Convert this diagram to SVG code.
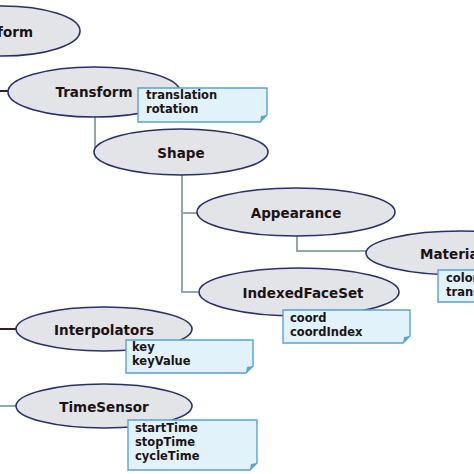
<svg xmlns="http://www.w3.org/2000/svg" width="474" height="474" viewBox="0 0 474 474">
<style>
.node{fill:#e3e4e8;stroke:#27306a;stroke-width:1.6}
.lbl{font-family:"DejaVu Sans",Verdana,sans-serif;font-weight:bold;font-size:13.5px;fill:#1c1214;text-anchor:middle}
.box{fill:#e1f2fb;stroke:#5aa2cf;stroke-width:1.4}
.fold{fill:#5aa2cf}
.ftxt{font-family:"DejaVu Sans",Verdana,sans-serif;font-weight:bold;font-size:11.5px;fill:#1c1214}
.conn{fill:none;stroke:#8fa9a7;stroke-width:2}
.dark{fill:none;stroke:#3a1e1e;stroke-width:2}
</style>
<rect width="474" height="474" fill="#ffffff"/>
<g id="connectors">
<path class="dark" d="M0 91 H9"/>
<path class="conn" d="M95 117 V152"/>
<path class="conn" d="M182 175 V292 H198 M182 213 H198"/>
<path class="conn" d="M297 236 V251 H366"/>
<path class="dark" d="M0 329 H17"/>
<path class="conn" d="M0 406 H16"/>
</g>
<g id="node-transform-top">
<ellipse class="node" cx="2" cy="31" rx="78" ry="25"/>
<text class="lbl" x="33" y="37" style="text-anchor:end">Transform</text>
</g>
<g id="node-transform">
<ellipse class="node" cx="94" cy="92" rx="86" ry="25"/>
<text class="lbl" x="94" y="97">Transform</text>
</g>
<g id="node-shape">
<ellipse class="node" cx="181" cy="152" rx="87" ry="23"/>
<text class="lbl" x="181" y="158">Shape</text>
</g>
<g id="node-appearance">
<ellipse class="node" cx="296" cy="212" rx="99" ry="24"/>
<text class="lbl" x="296" y="218">Appearance</text>
</g>
<g id="node-material">
<ellipse class="node" cx="461" cy="253" rx="95" ry="22"/>
<text class="lbl" x="420" y="259" style="text-anchor:start">Material</text>
</g>
<g id="node-indexedfaceset">
<ellipse class="node" cx="299" cy="292" rx="100" ry="24"/>
<text class="lbl" x="303" y="298">IndexedFaceSet</text>
</g>
<g id="node-interpolators">
<ellipse class="node" cx="104" cy="329" rx="88" ry="22"/>
<text class="lbl" x="104" y="335">Interpolators</text>
</g>
<g id="node-timesensor">
<ellipse class="node" cx="104" cy="406" rx="88" ry="22"/>
<text class="lbl" x="104" y="412">TimeSensor</text>
</g>
<g id="fields-transform">
<path class="box" d="M138 88 H267 V115 L260 122 H138 Z"/>
<path class="fold" d="M267 115 L260 122 L261 116 Z"/>
<text class="ftxt" x="146" y="99">translation</text>
<text class="ftxt" x="146" y="113">rotation</text>
</g>
<g id="fields-material">
<path class="box" d="M438 270 H480 V302 H438 Z"/>
<text class="ftxt" x="446" y="282">color</text>
<text class="ftxt" x="446" y="296">transparency</text>
</g>
<g id="fields-indexedfaceset">
<path class="box" d="M283 310 H410 V336 L403 343 H283 Z"/>
<path class="fold" d="M410 336 L403 343 L404 337 Z"/>
<text class="ftxt" x="290" y="322">coord</text>
<text class="ftxt" x="290" y="336">coordIndex</text>
</g>
<g id="fields-interpolators">
<path class="box" d="M126 340 H253 V366 L246 373 H126 Z"/>
<path class="fold" d="M253 366 L246 373 L247 367 Z"/>
<text class="ftxt" x="132" y="351">key</text>
<text class="ftxt" x="132" y="365">keyValue</text>
</g>
<g id="fields-timesensor">
<path class="box" d="M128 420 H257 V463 L250 470 H128 Z"/>
<path class="fold" d="M257 463 L250 470 L251 464 Z"/>
<text class="ftxt" x="135" y="432">startTime</text>
<text class="ftxt" x="135" y="446">stopTime</text>
<text class="ftxt" x="135" y="460">cycleTime</text>
</g>
</svg>
